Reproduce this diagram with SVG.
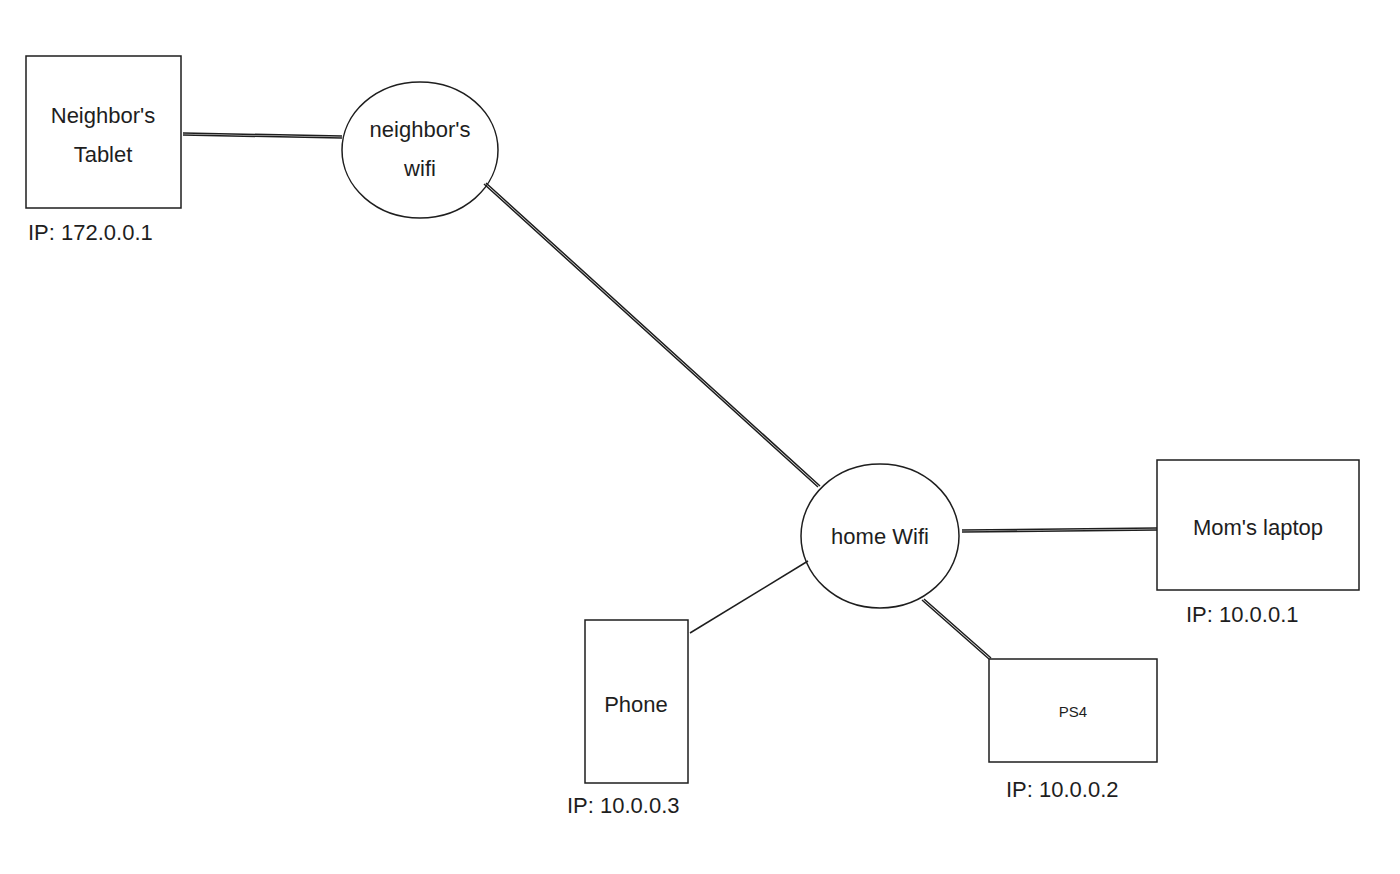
<svg xmlns="http://www.w3.org/2000/svg" width="1400" height="874" viewBox="0 0 1400 874">
<style>
.s{fill:none;stroke:#1e1e1e;stroke-width:1.5}
.t{font-family:"Liberation Sans",sans-serif;font-size:22px;fill:#1e1e1e;text-anchor:middle}
.l{font-family:"Liberation Sans",sans-serif;font-size:22px;fill:#1e1e1e}
</style>
<rect width="1400" height="874" fill="#fff"/>
<g id="connectors" class="s">
<path d="M183 133 L342 136 M183 135 L342 138"/>
<path d="M484 184 L818 487 M486 183 L820 486"/>
<path d="M962 530 L1157 528 M962 532 L1157 530"/>
<path d="M922 600 L989 659 M924 599 L991 658"/>
<path d="M690 633 L808 561"/>
</g>
<g id="tablet"><rect class="s" x="26" y="56" width="155" height="152"/><text class="t" x="103" y="123">Neighbor's</text><text class="t" x="103" y="162">Tablet</text><text class="l" x="28" y="240">IP: 172.0.0.1</text></g>
<g id="neighborwifi"><ellipse class="s" cx="420" cy="150" rx="78" ry="68"/><text class="t" x="420" y="137">neighbor's</text><text class="t" x="420" y="176">wifi</text></g>
<g id="homewifi"><ellipse class="s" cx="880" cy="536" rx="79" ry="72"/><text class="t" x="880" y="544">home Wifi</text></g>
<g id="laptop"><rect class="s" x="1157" y="460" width="202" height="130"/><text class="t" x="1258" y="535">Mom's laptop</text><text class="l" x="1186" y="622">IP: 10.0.0.1</text></g>
<g id="ps4"><rect class="s" x="989" y="659" width="168" height="103"/><text class="t" x="1073" y="717" style="font-size:15px">PS4</text><text class="l" x="1006" y="797">IP: 10.0.0.2</text></g>
<g id="phone"><rect class="s" x="585" y="620" width="103" height="163"/><text class="t" x="636" y="712">Phone</text><text class="l" x="567" y="813">IP: 10.0.0.3</text></g>
</svg>
